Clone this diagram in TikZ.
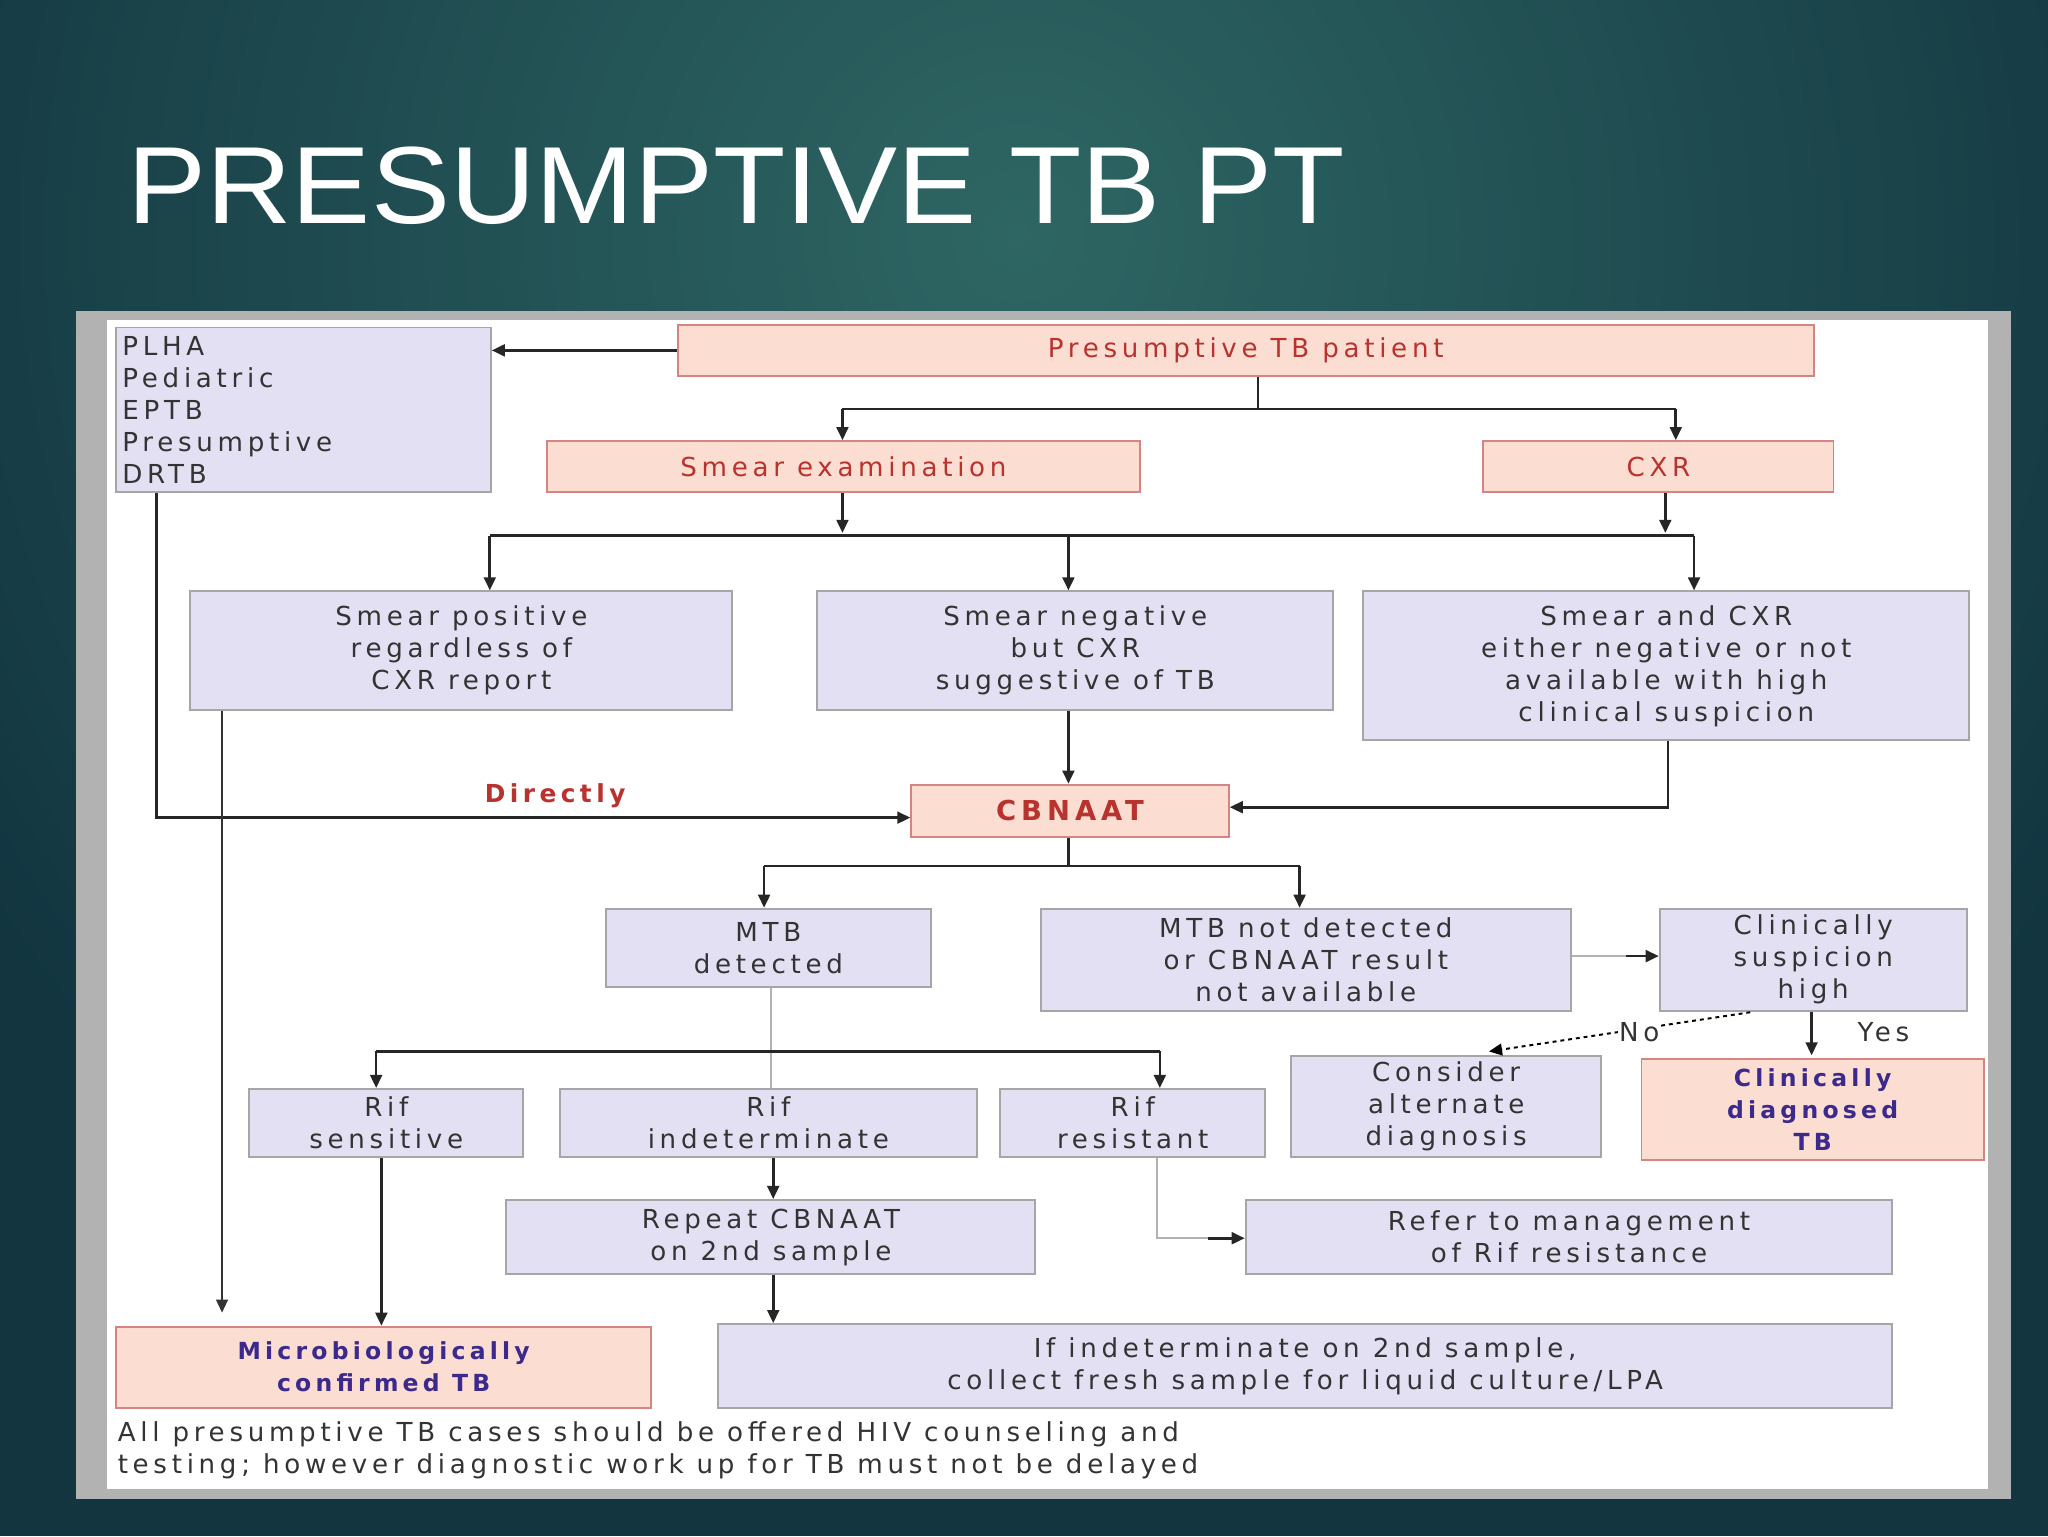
\documentclass[tikz,border=0pt]{standalone}
\usepackage{fontspec}
\setmainfont{Liberation Sans}
\newfontfamily\wide[LetterSpace=18]{DejaVu Sans}
\newfontfamily\titlef[FakeStretch=1.08]{Liberation Sans}
\usetikzlibrary{arrows.meta}
\definecolor{bgdark}{HTML}{123540}
\definecolor{bglight}{HTML}{2E6663}
\definecolor{lav}{HTML}{E2E0F2}
\definecolor{pinkf}{HTML}{FCDDD2}
\definecolor{redt}{HTML}{B8322E}
\definecolor{purt}{HTML}{3B2A8C}
\tikzset{
 box/.style={draw=gray!70,line width=1.5pt,fill=lav,anchor=north west,align=center,inner sep=2pt,font=\wide\fontsize{20}{24.5}\selectfont,text=black!80},
 pbox/.style={box,fill=pinkf,draw=redt!60,text=redt},
 ln/.style={line width=2pt,black!85},
 arr/.style={ln,-{Triangle[length=10pt,width=9pt]}},
 gln/.style={line width=1.5pt,gray!60},
}
\newcommand{\bx}[6]{\node[#1,minimum width=#4-#2,minimum height=#5-#3] (#6) at (#2,#3)}
\begin{document}
\begin{tikzpicture}[x=1pt,y=-1pt]
\useasboundingbox (0,0) rectangle (1568,1176);
\fill[bgdark] (0,0) rectangle (1568,1176);
\begin{scope}
\clip (0,0) rectangle (1568,1176);
\shade[inner color=bglight,outer color=bgdark] (780,180) circle (950);
\end{scope}
\node[anchor=west,text=white,font=\titlef\fontsize{84}{90}\selectfont] (title) at (94,142) {PRESUMPTIVE TB PT};
\fill[gray!60] (58,238) rectangle (1540,1148);
\fill[white] (82,245) rectangle (1522,1140);

\bx{box,align=left,text width=277,inner sep=5pt}{88}{250}{375}{376}{plha} {PLHA\\Pediatric\\EPTB\\Presumptive\\DRTB};
\bx{pbox}{518}{248}{1388}{287}{pres} {Presumptive TB patient};
\bx{pbox}{418}{337}{872}{376}{smear} {Smear examination};
\bx{pbox}{1135}{337}{1403}{376}{cxr} {CXR};
\bx{box}{145}{452}{560}{543}{spos} {Smear positive\\regardless of\\CXR report};
\bx{box}{625}{452}{1020}{543}{sneg} {Smear negative\\but CXR\\suggestive of TB};
\bx{box}{1043}{452}{1507}{566}{scxr} {Smear and CXR\\either negative or not\\available with high\\clinical suspicion};
\bx{pbox,font=\wide\fontsize{21}{26}\selectfont\bfseries}{697}{600}{940}{640}{cb} {CBNAAT};
\bx{box}{463}{695}{712}{755}{mtb} {MTB\\detected};
\bx{box}{796}{695}{1202}{773}{mtbn} {MTB not detected\\or CBNAAT result\\not available};
\bx{box}{1270}{695}{1505}{773}{csh} {Clinically\\suspicion\\high};
\bx{box}{190}{833}{400}{885}{rs} {Rif\\sensitive};
\bx{box}{428}{833}{747}{885}{ri} {Rif\\indeterminate};
\bx{box}{765}{833}{968}{885}{rr} {Rif\\resistant};
\bx{box}{988}{808}{1225}{885}{cad} {Consider\\alternate\\diagnosis};
\bx{pbox,text=purt,font=\wide\fontsize{18}{24.5}\selectfont\bfseries}{1256}{810}{1518}{887}{cdt} {Clinically\\diagnosed\\TB};
\bx{box}{387}{918}{792}{975}{rep} {Repeat CBNAAT\\on 2nd sample};
\bx{box}{953}{918}{1448}{975}{ref} {Refer to management\\of Rif resistance};
\bx{pbox,text=purt,font=\wide\fontsize{18}{24.5}\selectfont\bfseries}{88}{1015}{498}{1077}{mic} {Microbiologically\\confirmed TB};
\bx{box}{549}{1013}{1448}{1077}{ifi} {If indeterminate on 2nd sample,\\collect fresh sample for liquid culture/LPA};
\node[anchor=north west,align=left,font=\wide\fontsize{20}{25}\selectfont,text=black!80,inner sep=0] (foot) at (90,1088) {All presumptive TB cases should be offered HIV counseling and\\testing; however diagnostic work up for TB must not be delayed};

\draw[arr] (pres.west) -- (plha.east|-pres.west);
\coordinate (j1) at (963,313);
\draw[ln] (pres.south-|j1) -- (j1);
\draw[ln] (645,313) -- (1283,313);
\draw[arr] (645,313) -- (smear.north-|645,0);
\draw[arr] (1283,313) -- (cxr.north-|1283,0);
\draw[arr] (smear.south-|645,0) -- (645,408);
\draw[arr] (cxr.south-|1275,0) -- (1275,408);
\draw[ln] (375,410) -- (1297,410);
\draw[arr] (375,410) -- (spos.north-|375,0);
\draw[arr] (818,410) -- (sneg.north-|818,0);
\draw[arr] (1297,410) -- (scxr.north-|1297,0);
\draw[arr] (plha.south-|120,0) -- (120,626) -- (cb.west|-0,626);
\node[text=redt,font=\wide\fontsize{19}{24}\selectfont\bfseries] (dir) at (425,609) {Directly};
\draw[gln,-{Triangle[length=10pt,width=9pt]},black!80] (spos.south-|170,0) -- (170,1005);
\draw[arr] (sneg.south-|818,0) -- (cb.north-|818,0);
\draw[arr] (scxr.south-|1277,0) -- (1277,618) -- (cb.east|-0,618);
\draw[ln] (cb.south-|818,0) -- (818,663);
\draw[ln] (585,663) -- (995,663);
\draw[arr] (585,663) -- (mtb.north-|585,0);
\draw[arr] (995,663) -- (mtbn.north-|995,0);
\draw[gln] (mtbn.east|-0,732) -- (1250,732);
\draw[arr] (1245,732) -- (csh.west|-0,732);
\draw[arr] (csh.south-|1387,0) -- (1387,808);
\node[font=\wide\fontsize{20}{24}\selectfont,text=black!80] (yes) at (1442,790) {Yes};
\draw[line width=1.5pt,dashed,-{Triangle[length=10pt,width=9pt]}] (1340,775) -- (1140,805);
\node[font=\wide\fontsize{20}{24}\selectfont,text=black!80,fill=white,inner sep=1pt] (no) at (1255,790) {No};
\draw[gln] (mtb.south-|590,0) -- (ri.north-|590,0);
\draw[ln] (288,805) -- (888,805);
\draw[arr] (288,805) -- (rs.north-|288,0);
\draw[arr] (888,805) -- (rr.north-|888,0);
\draw[arr] (rs.south-|292,0) -- (mic.north-|292,0);
\draw[arr] (ri.south-|592,0) -- (rep.north-|592,0);
\draw[arr] (rep.south-|592,0) -- (ifi.north-|592,0);
\draw[gln] (rr.south-|886,0) -- (886,948) -- (930,948);
\draw[arr] (925,948) -- (ref.west|-0,948);
\end{tikzpicture}
\end{document}
